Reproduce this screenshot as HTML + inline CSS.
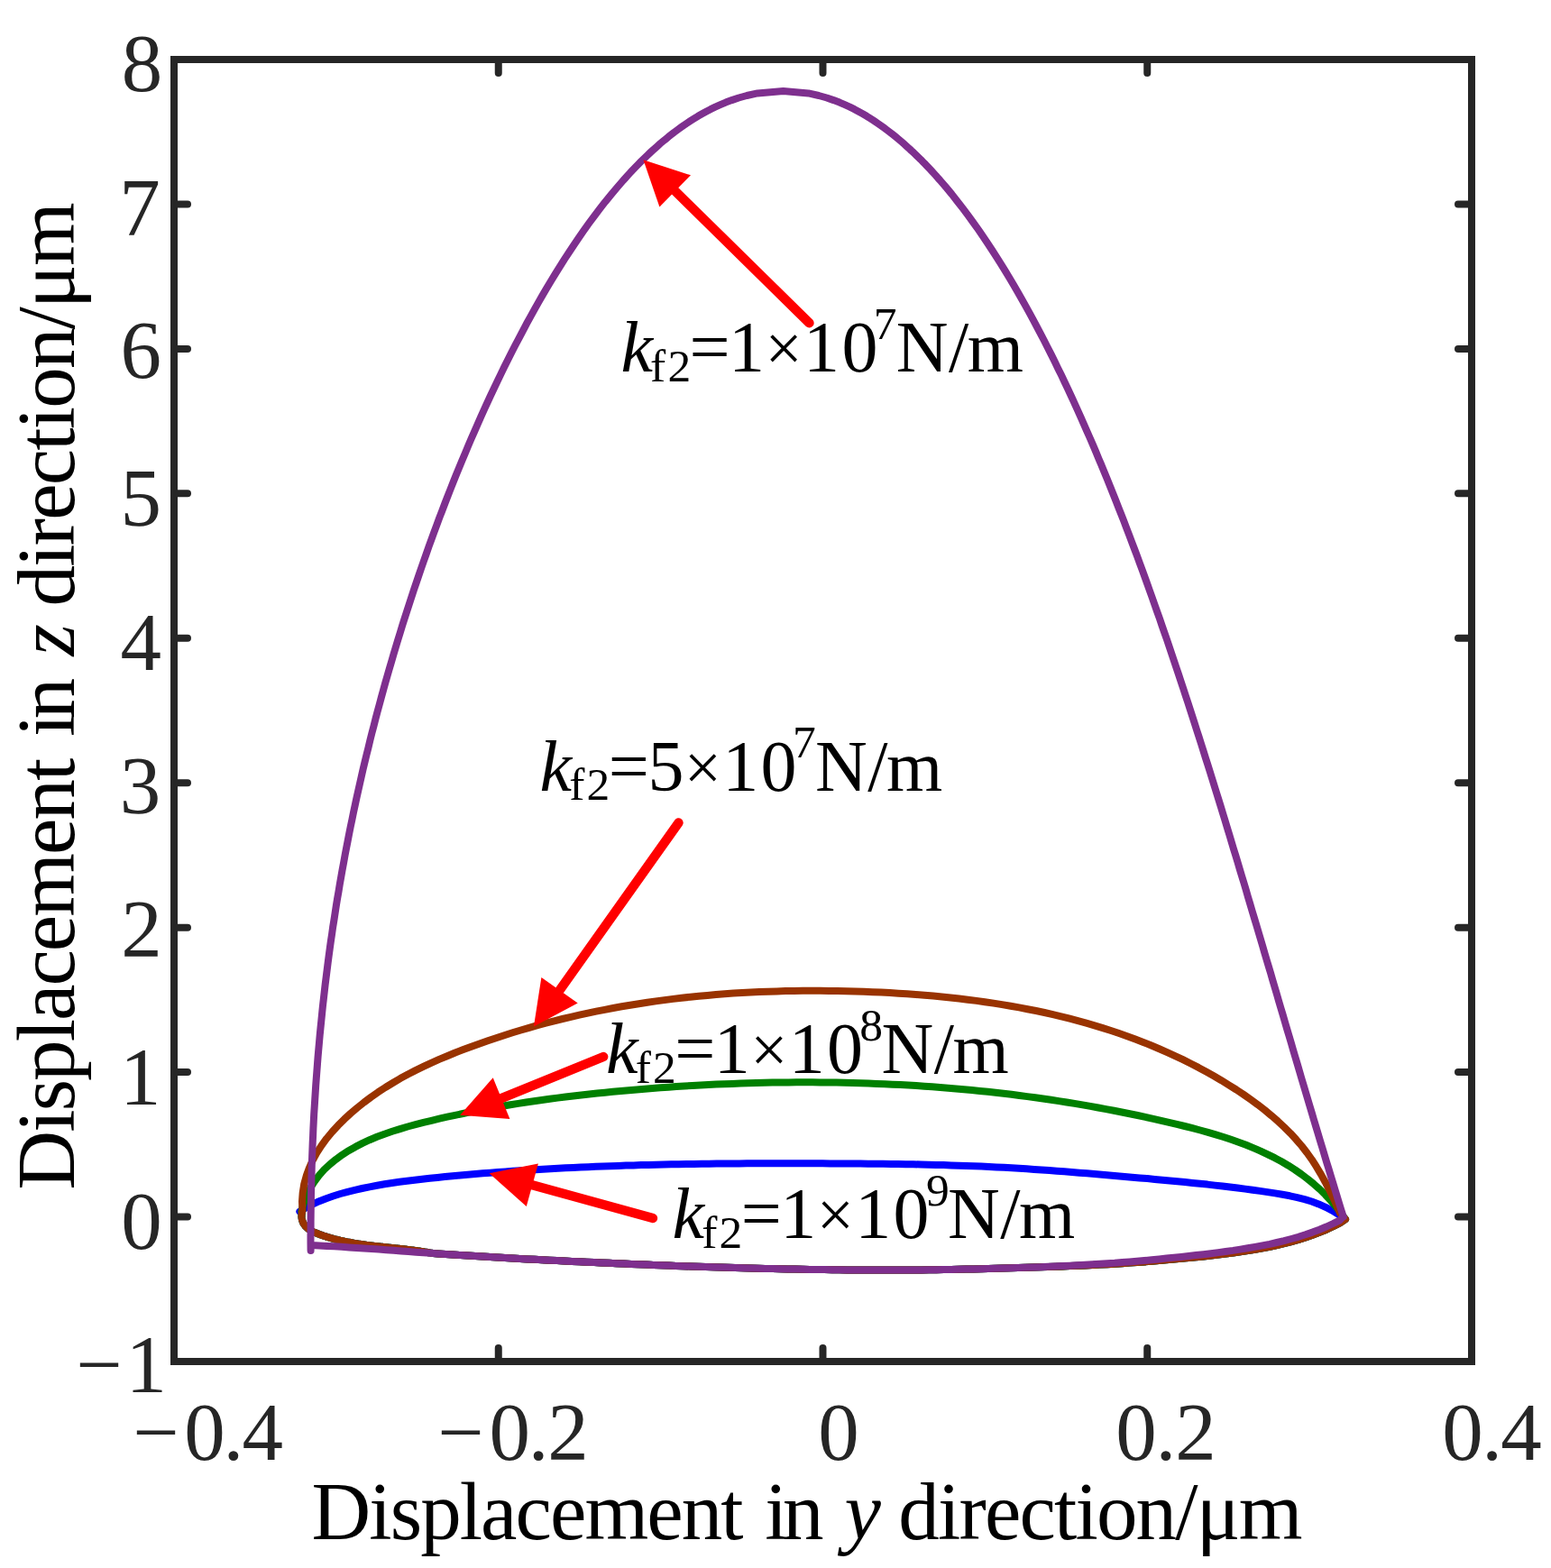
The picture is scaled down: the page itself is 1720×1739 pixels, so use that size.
<!DOCTYPE html>
<html lang="en"><head><meta charset="utf-8"><title>Displacement trajectory</title>
<style>html,body{margin:0;padding:0;background:#fff}body{width:1720px;height:1739px;overflow:hidden}svg{display:block}text{font-family:"Liberation Serif","DejaVu Serif",serif;white-space:pre;font-kerning:none}</style></head><body>
<svg width="1720" height="1739" viewBox="0 0 1720 1739">
<rect width="1720" height="1739" fill="#fff"/>
<path d="M480.0 1390.0 L478.8 1389.8 L477.7 1389.6 L476.5 1389.4 L475.4 1389.2 L474.2 1389.0 L473.1 1388.8 L471.9 1388.6 L470.7 1388.4 L469.6 1388.2 L468.4 1388.0 L467.3 1387.9 L466.1 1387.7 L464.9 1387.5 L463.8 1387.4 L462.6 1387.2 L461.4 1387.0 L460.3 1386.9 L459.1 1386.7 L457.9 1386.6 L456.8 1386.4 L455.6 1386.3 L454.4 1386.1 L453.2 1386.0 L452.1 1385.9 L450.9 1385.7 L449.7 1385.6 L448.6 1385.5 L447.4 1385.3 L446.2 1385.2 L445.0 1385.1 L443.9 1384.9 L442.7 1384.8 L441.5 1384.7 L440.3 1384.5 L439.1 1384.4 L438.0 1384.3 L436.8 1384.2 L435.6 1384.1 L434.4 1383.9 L433.3 1383.8 L432.1 1383.7 L430.9 1383.6 L429.7 1383.5 L428.6 1383.3 L427.4 1383.2 L426.2 1383.1 L425.0 1383.0 L423.8 1382.8 L422.7 1382.7 L421.5 1382.6 L420.3 1382.5 L419.1 1382.3 L417.9 1382.2 L416.8 1382.1 L415.6 1381.9 L414.4 1381.8 L413.2 1381.7 L412.1 1381.5 L410.9 1381.4 L409.7 1381.2 L408.5 1381.1 L407.4 1380.9 L406.2 1380.8 L405.0 1380.6 L403.8 1380.5 L402.7 1380.3 L401.5 1380.1 L400.3 1380.0 L399.1 1379.8 L398.0 1379.6 L396.8 1379.4 L395.6 1379.2 L394.5 1379.1 L393.3 1378.9 L392.1 1378.7 L391.0 1378.5 L389.8 1378.3 L388.6 1378.0 L387.5 1377.8 L386.3 1377.6 L385.2 1377.4 L384.0 1377.2 L382.9 1376.9 L381.7 1376.7 L380.5 1376.5 L379.4 1376.2 L378.2 1375.9 L377.1 1375.7 L375.9 1375.4 L374.8 1375.1 L373.6 1374.8 L372.5 1374.6 L371.3 1374.3 L370.2 1374.0 L369.0 1373.7 L367.9 1373.3 L366.8 1373.0 L365.6 1372.7 L364.5 1372.4 L363.3 1372.0 L362.2 1371.7 L361.1 1371.3 L359.9 1370.9 L358.8 1370.6 L357.7 1370.2 L356.6 1369.8 L355.4 1369.4 L354.3 1369.0 L353.2 1368.6 L352.1 1368.1 L351.0 1367.7 L349.9 1367.2 L348.8 1366.8 L347.7 1366.3 L346.7 1365.8 L345.7 1365.2 L344.7 1364.6 L343.7 1364.0 L342.8 1363.4 L341.9 1362.8 L341.0 1362.1 L340.2 1361.3 L339.4 1360.6 L338.6 1359.8 L337.9 1358.9 L337.3 1358.0 L336.7 1357.1 L336.2 1356.2 L335.8 1355.2 L335.4 1354.1 L335.0 1353.0 L334.8 1351.8 L334.6 1350.6 L334.5 1349.4 L334.5 1348.1 L334.6 1346.7 L334.8 1345.3 L335.1 1343.9 L335.4 1342.3 L332.3 1343.7 L339.4 1339.4 L346.6 1335.6 L354.1 1332.2 L361.8 1329.2 L369.5 1326.5 L377.4 1324.0 L385.4 1321.8 L393.5 1319.8 L401.6 1318.0 L409.8 1316.3 L418.1 1314.7 L426.4 1313.3 L434.7 1312.0 L443.1 1310.8 L451.4 1309.7 L459.8 1308.7 L468.2 1307.7 L476.6 1306.8 L485.0 1305.9 L493.4 1305.1 L501.8 1304.3 L510.2 1303.5 L518.6 1302.8 L527.0 1302.0 L535.3 1301.3 L543.7 1300.7 L552.0 1300.0 L560.4 1299.4 L568.7 1298.8 L577.1 1298.2 L585.4 1297.7 L593.8 1297.2 L602.1 1296.7 L610.5 1296.2 L618.8 1295.8 L627.2 1295.3 L635.5 1294.9 L643.9 1294.5 L652.3 1294.2 L660.6 1293.8 L669.0 1293.5 L677.4 1293.2 L685.7 1292.9 L694.1 1292.6 L702.5 1292.4 L710.9 1292.1 L719.2 1291.9 L727.6 1291.7 L736.0 1291.5 L744.4 1291.3 L752.8 1291.2 L761.2 1291.0 L769.6 1290.9 L778.0 1290.8 L786.3 1290.7 L794.7 1290.6 L803.1 1290.5 L811.5 1290.4 L819.9 1290.4 L828.3 1290.3 L836.7 1290.3 L845.1 1290.3 L853.5 1290.2 L861.9 1290.2 L870.3 1290.2 L878.7 1290.2 L887.1 1290.3 L895.5 1290.3 L903.9 1290.3 L912.2 1290.3 L920.6 1290.4 L929.0 1290.4 L937.4 1290.5 L945.8 1290.5 L954.2 1290.6 L962.6 1290.7 L971.0 1290.7 L979.4 1290.8 L987.8 1290.9 L996.1 1291.1 L1004.5 1291.2 L1012.9 1291.3 L1021.3 1291.5 L1029.7 1291.7 L1038.0 1291.9 L1046.4 1292.1 L1054.8 1292.4 L1063.2 1292.7 L1071.5 1293.0 L1079.9 1293.3 L1088.3 1293.6 L1096.7 1294.0 L1105.0 1294.4 L1113.4 1294.8 L1121.8 1295.3 L1130.1 1295.8 L1138.5 1296.3 L1146.8 1296.9 L1155.2 1297.5 L1163.6 1298.0 L1171.9 1298.7 L1180.3 1299.3 L1188.7 1300.0 L1197.0 1300.7 L1205.4 1301.3 L1213.7 1302.0 L1222.1 1302.8 L1230.5 1303.5 L1238.8 1304.2 L1247.2 1304.9 L1255.5 1305.7 L1263.9 1306.4 L1272.3 1307.1 L1280.6 1307.9 L1289.0 1308.7 L1297.3 1309.4 L1305.7 1310.2 L1314.1 1311.0 L1322.4 1311.9 L1330.8 1312.8 L1339.1 1313.6 L1347.4 1314.6 L1355.8 1315.5 L1364.1 1316.5 L1372.4 1317.5 L1380.8 1318.6 L1389.1 1319.8 L1397.4 1320.9 L1405.7 1322.1 L1414.0 1323.4 L1422.2 1324.8 L1430.5 1326.3 L1438.6 1328.1 L1446.7 1330.1 L1454.6 1332.5 L1462.4 1335.4 L1470.0 1338.8 L1477.5 1342.7 L1484.7 1347.2 L1492.0 1352.2 L1485.8 1356.5 L1478.4 1360.2 L1470.9 1363.7 L1463.2 1366.8 L1455.5 1369.7 L1447.7 1372.4 L1439.9 1374.9 L1432.0 1377.1 L1424.0 1379.2 L1416.0 1381.1 L1408.0 1382.8 L1399.9 1384.4 L1391.8 1385.8 L1383.7 1387.1 L1375.5 1388.3 L1367.4 1389.5 L1359.2 1390.5 L1351.0 1391.5 L1342.8 1392.5 L1334.6 1393.4 L1326.4 1394.2 L1318.2 1395.0 L1310.0 1395.8 L1301.8 1396.6 L1293.6 1397.3 L1285.4 1398.0 L1277.2 1398.7 L1269.0 1399.4 L1260.8 1400.0 L1252.5 1400.6 L1244.3 1401.2 L1236.1 1401.7 L1227.9 1402.2 L1219.6 1402.6 L1211.4 1403.0 L1203.2 1403.4 L1194.9 1403.8 L1186.7 1404.1 L1178.4 1404.4 L1170.2 1404.7 L1162.0 1405.0 L1153.7 1405.2 L1145.5 1405.5 L1137.2 1405.8 L1129.0 1406.1 L1120.8 1406.3 L1112.5 1406.6 L1104.3 1406.8 L1096.0 1407.1 L1087.8 1407.3 L1079.5 1407.5 L1071.3 1407.6 L1063.0 1407.8 L1054.8 1407.9 L1046.5 1408.1 L1038.3 1408.2 L1030.0 1408.3 L1021.8 1408.4 L1013.5 1408.4 L1005.3 1408.5 L997.0 1408.5 L988.8 1408.5 L980.5 1408.5 L972.3 1408.5 L964.0 1408.5 L955.8 1408.5 L947.5 1408.4 L939.3 1408.4 L931.0 1408.3 L922.8 1408.2 L914.5 1408.1 L906.3 1408.0 L898.0 1407.9 L889.8 1407.8 L881.5 1407.6 L873.3 1407.5 L865.0 1407.3 L856.8 1407.1 L848.5 1406.9 L840.3 1406.7 L832.0 1406.5 L823.8 1406.3 L815.5 1406.1 L807.3 1405.8 L799.0 1405.6 L790.8 1405.3 L782.6 1405.1 L774.3 1404.8 L766.1 1404.5 L757.8 1404.2 L749.6 1403.9 L741.3 1403.6 L733.1 1403.3 L724.8 1403.0 L716.6 1402.6 L708.3 1402.3 L700.1 1401.9 L691.9 1401.6 L683.6 1401.2 L675.4 1400.8 L667.1 1400.5 L658.9 1400.1 L650.6 1399.7 L642.4 1399.3 L634.2 1398.9 L625.9 1398.5 L617.7 1398.1 L609.5 1397.7 L601.2 1397.3 L593.0 1396.8 L584.7 1396.4 L576.5 1396.0 L568.3 1395.5 L560.0 1395.0 L551.8 1394.6 L543.6 1394.1 L535.3 1393.6 L527.1 1393.1 L518.9 1392.6 L510.6 1392.1 L502.4 1391.5 L494.2 1391.0 L485.9 1390.4Z" fill="none" stroke="#0000ff" stroke-width="8" stroke-linejoin="round" stroke-linecap="round"/>
<path d="M480.0 1390.0 L478.8 1389.8 L477.7 1389.6 L476.5 1389.4 L475.4 1389.2 L474.2 1389.0 L473.1 1388.8 L471.9 1388.6 L470.7 1388.4 L469.6 1388.2 L468.4 1388.0 L467.3 1387.9 L466.1 1387.7 L464.9 1387.5 L463.8 1387.4 L462.6 1387.2 L461.4 1387.0 L460.3 1386.9 L459.1 1386.7 L457.9 1386.6 L456.8 1386.4 L455.6 1386.3 L454.4 1386.1 L453.2 1386.0 L452.1 1385.9 L450.9 1385.7 L449.7 1385.6 L448.6 1385.5 L447.4 1385.3 L446.2 1385.2 L445.0 1385.1 L443.9 1384.9 L442.7 1384.8 L441.5 1384.7 L440.3 1384.5 L439.1 1384.4 L438.0 1384.3 L436.8 1384.2 L435.6 1384.1 L434.4 1383.9 L433.3 1383.8 L432.1 1383.7 L430.9 1383.6 L429.7 1383.5 L428.6 1383.3 L427.4 1383.2 L426.2 1383.1 L425.0 1383.0 L423.8 1382.8 L422.7 1382.7 L421.5 1382.6 L420.3 1382.5 L419.1 1382.3 L417.9 1382.2 L416.8 1382.1 L415.6 1381.9 L414.4 1381.8 L413.2 1381.7 L412.1 1381.5 L410.9 1381.4 L409.7 1381.2 L408.5 1381.1 L407.4 1380.9 L406.2 1380.8 L405.0 1380.6 L403.8 1380.5 L402.7 1380.3 L401.5 1380.1 L400.3 1380.0 L399.1 1379.8 L398.0 1379.6 L396.8 1379.4 L395.6 1379.2 L394.5 1379.1 L393.3 1378.9 L392.1 1378.7 L391.0 1378.5 L389.8 1378.3 L388.6 1378.0 L387.5 1377.8 L386.3 1377.6 L385.2 1377.4 L384.0 1377.2 L382.9 1376.9 L381.7 1376.7 L380.5 1376.5 L379.4 1376.2 L378.2 1375.9 L377.1 1375.7 L375.9 1375.4 L374.8 1375.1 L373.6 1374.8 L372.5 1374.6 L371.3 1374.3 L370.2 1374.0 L369.0 1373.7 L367.9 1373.3 L366.8 1373.0 L365.6 1372.7 L364.5 1372.4 L363.3 1372.0 L362.2 1371.7 L361.1 1371.3 L359.9 1370.9 L358.8 1370.6 L357.7 1370.2 L356.6 1369.8 L355.4 1369.4 L354.3 1369.0 L353.2 1368.6 L352.1 1368.1 L351.0 1367.7 L349.9 1367.2 L348.8 1366.8 L347.7 1366.3 L346.7 1365.8 L345.7 1365.2 L344.7 1364.6 L343.7 1364.0 L342.8 1363.4 L341.9 1362.8 L341.0 1362.1 L340.2 1361.3 L339.4 1360.6 L338.6 1359.8 L337.9 1358.9 L337.3 1358.0 L336.7 1357.1 L336.2 1356.2 L335.8 1355.2 L335.4 1354.1 L335.0 1353.0 L334.8 1351.8 L334.6 1350.6 L334.5 1349.4 L334.5 1348.1 L334.6 1346.7 L334.8 1345.3 L335.1 1343.9 L335.4 1342.3 L334.3 1343.8 L336.7 1334.5 L340.0 1325.9 L343.9 1317.9 L348.6 1310.5 L353.8 1303.6 L359.5 1297.2 L365.8 1291.3 L372.4 1285.9 L379.4 1280.8 L386.6 1276.2 L394.2 1271.9 L402.0 1267.9 L409.9 1264.2 L418.1 1260.8 L426.4 1257.7 L434.9 1254.8 L443.5 1252.1 L452.1 1249.5 L460.9 1247.2 L469.6 1244.9 L478.4 1242.8 L487.2 1240.7 L496.0 1238.7 L504.7 1236.8 L513.5 1235.0 L522.2 1233.2 L531.0 1231.5 L539.7 1229.8 L548.5 1228.2 L557.2 1226.7 L565.9 1225.3 L574.7 1223.9 L583.4 1222.5 L592.1 1221.2 L600.9 1220.0 L609.6 1218.8 L618.3 1217.6 L627.1 1216.5 L635.8 1215.5 L644.5 1214.5 L653.3 1213.5 L662.1 1212.5 L670.8 1211.7 L679.6 1210.8 L688.4 1210.0 L697.2 1209.2 L706.0 1208.4 L714.8 1207.7 L723.6 1207.0 L732.5 1206.3 L741.3 1205.7 L750.1 1205.1 L759.0 1204.5 L767.8 1204.0 L776.7 1203.5 L785.6 1203.0 L794.4 1202.6 L803.3 1202.2 L812.2 1201.9 L821.1 1201.5 L829.9 1201.3 L838.8 1201.0 L847.7 1200.8 L856.6 1200.6 L865.5 1200.5 L874.4 1200.4 L883.2 1200.3 L892.1 1200.3 L901.0 1200.3 L909.9 1200.4 L918.8 1200.5 L927.6 1200.6 L936.5 1200.8 L945.4 1201.0 L954.2 1201.3 L963.1 1201.5 L972.0 1201.9 L980.8 1202.2 L989.6 1202.7 L998.5 1203.1 L1007.3 1203.6 L1016.1 1204.1 L1025.0 1204.7 L1033.8 1205.3 L1042.6 1206.0 L1051.4 1206.7 L1060.2 1207.4 L1069.0 1208.2 L1077.8 1209.0 L1086.6 1209.9 L1095.4 1210.8 L1104.1 1211.8 L1112.9 1212.8 L1121.7 1213.8 L1130.5 1215.0 L1139.2 1216.1 L1148.0 1217.3 L1156.7 1218.5 L1165.5 1219.8 L1174.2 1221.1 L1183.0 1222.5 L1191.7 1223.9 L1200.5 1225.4 L1209.2 1226.9 L1217.9 1228.5 L1226.6 1230.1 L1235.4 1231.8 L1244.1 1233.5 L1252.8 1235.2 L1261.5 1237.0 L1270.2 1238.9 L1279.0 1240.8 L1287.7 1242.8 L1296.4 1244.8 L1305.1 1246.9 L1313.8 1249.0 L1322.4 1251.2 L1331.1 1253.5 L1339.7 1255.9 L1348.2 1258.4 L1356.8 1261.0 L1365.2 1263.8 L1373.5 1266.7 L1381.8 1269.8 L1389.9 1273.1 L1398.0 1276.6 L1405.9 1280.3 L1413.7 1284.2 L1421.3 1288.3 L1428.8 1292.7 L1436.1 1297.4 L1443.3 1302.4 L1450.2 1307.6 L1457.0 1313.2 L1463.6 1319.0 L1469.9 1325.2 L1476.0 1331.8 L1481.9 1338.7 L1487.5 1346.0 L1492.0 1352.2 L1485.8 1356.5 L1478.4 1360.2 L1470.9 1363.7 L1463.2 1366.8 L1455.5 1369.7 L1447.7 1372.4 L1439.9 1374.9 L1432.0 1377.1 L1424.0 1379.2 L1416.0 1381.1 L1408.0 1382.8 L1399.9 1384.4 L1391.8 1385.8 L1383.7 1387.1 L1375.5 1388.3 L1367.4 1389.5 L1359.2 1390.5 L1351.0 1391.5 L1342.8 1392.5 L1334.6 1393.4 L1326.4 1394.2 L1318.2 1395.0 L1310.0 1395.8 L1301.8 1396.6 L1293.6 1397.3 L1285.4 1398.0 L1277.2 1398.7 L1269.0 1399.4 L1260.8 1400.0 L1252.5 1400.6 L1244.3 1401.2 L1236.1 1401.7 L1227.9 1402.2 L1219.6 1402.6 L1211.4 1403.0 L1203.2 1403.4 L1194.9 1403.8 L1186.7 1404.1 L1178.4 1404.4 L1170.2 1404.7 L1162.0 1405.0 L1153.7 1405.2 L1145.5 1405.5 L1137.2 1405.8 L1129.0 1406.1 L1120.8 1406.3 L1112.5 1406.6 L1104.3 1406.8 L1096.0 1407.1 L1087.8 1407.3 L1079.5 1407.5 L1071.3 1407.6 L1063.0 1407.8 L1054.8 1407.9 L1046.5 1408.1 L1038.3 1408.2 L1030.0 1408.3 L1021.8 1408.4 L1013.5 1408.4 L1005.3 1408.5 L997.0 1408.5 L988.8 1408.5 L980.5 1408.5 L972.3 1408.5 L964.0 1408.5 L955.8 1408.5 L947.5 1408.4 L939.3 1408.4 L931.0 1408.3 L922.8 1408.2 L914.5 1408.1 L906.3 1408.0 L898.0 1407.9 L889.8 1407.8 L881.5 1407.6 L873.3 1407.5 L865.0 1407.3 L856.8 1407.1 L848.5 1406.9 L840.3 1406.7 L832.0 1406.5 L823.8 1406.3 L815.5 1406.1 L807.3 1405.8 L799.0 1405.6 L790.8 1405.3 L782.6 1405.1 L774.3 1404.8 L766.1 1404.5 L757.8 1404.2 L749.6 1403.9 L741.3 1403.6 L733.1 1403.3 L724.8 1403.0 L716.6 1402.6 L708.3 1402.3 L700.1 1401.9 L691.9 1401.6 L683.6 1401.2 L675.4 1400.8 L667.1 1400.5 L658.9 1400.1 L650.6 1399.7 L642.4 1399.3 L634.2 1398.9 L625.9 1398.5 L617.7 1398.1 L609.5 1397.7 L601.2 1397.3 L593.0 1396.8 L584.7 1396.4 L576.5 1396.0 L568.3 1395.5 L560.0 1395.0 L551.8 1394.6 L543.6 1394.1 L535.3 1393.6 L527.1 1393.1 L518.9 1392.6 L510.6 1392.1 L502.4 1391.5 L494.2 1391.0 L485.9 1390.4Z" fill="none" stroke="#008000" stroke-width="8" stroke-linejoin="round" stroke-linecap="round"/>
<path d="M480.0 1390.0 L478.8 1389.8 L477.7 1389.6 L476.5 1389.4 L475.4 1389.2 L474.2 1389.0 L473.1 1388.8 L471.9 1388.6 L470.7 1388.4 L469.6 1388.2 L468.4 1388.0 L467.3 1387.9 L466.1 1387.7 L464.9 1387.5 L463.8 1387.4 L462.6 1387.2 L461.4 1387.0 L460.3 1386.9 L459.1 1386.7 L457.9 1386.6 L456.8 1386.4 L455.6 1386.3 L454.4 1386.1 L453.2 1386.0 L452.1 1385.9 L450.9 1385.7 L449.7 1385.6 L448.6 1385.5 L447.4 1385.3 L446.2 1385.2 L445.0 1385.1 L443.9 1384.9 L442.7 1384.8 L441.5 1384.7 L440.3 1384.5 L439.1 1384.4 L438.0 1384.3 L436.8 1384.2 L435.6 1384.1 L434.4 1383.9 L433.3 1383.8 L432.1 1383.7 L430.9 1383.6 L429.7 1383.5 L428.6 1383.3 L427.4 1383.2 L426.2 1383.1 L425.0 1383.0 L423.8 1382.8 L422.7 1382.7 L421.5 1382.6 L420.3 1382.5 L419.1 1382.3 L417.9 1382.2 L416.8 1382.1 L415.6 1381.9 L414.4 1381.8 L413.2 1381.7 L412.1 1381.5 L410.9 1381.4 L409.7 1381.2 L408.5 1381.1 L407.4 1380.9 L406.2 1380.8 L405.0 1380.6 L403.8 1380.5 L402.7 1380.3 L401.5 1380.1 L400.3 1380.0 L399.1 1379.8 L398.0 1379.6 L396.8 1379.4 L395.6 1379.2 L394.5 1379.1 L393.3 1378.9 L392.1 1378.7 L391.0 1378.5 L389.8 1378.3 L388.6 1378.0 L387.5 1377.8 L386.3 1377.6 L385.2 1377.4 L384.0 1377.2 L382.9 1376.9 L381.7 1376.7 L380.5 1376.5 L379.4 1376.2 L378.2 1375.9 L377.1 1375.7 L375.9 1375.4 L374.8 1375.1 L373.6 1374.8 L372.5 1374.6 L371.3 1374.3 L370.2 1374.0 L369.0 1373.7 L367.9 1373.3 L366.8 1373.0 L365.6 1372.7 L364.5 1372.4 L363.3 1372.0 L362.2 1371.7 L361.1 1371.3 L359.9 1370.9 L358.8 1370.6 L357.7 1370.2 L356.6 1369.8 L355.4 1369.4 L354.3 1369.0 L353.2 1368.6 L352.1 1368.1 L351.0 1367.7 L349.9 1367.2 L348.8 1366.8 L347.7 1366.3 L346.7 1365.8 L345.7 1365.2 L344.7 1364.6 L343.7 1364.0 L342.8 1363.4 L341.9 1362.8 L341.0 1362.1 L340.2 1361.3 L339.4 1360.6 L338.6 1359.8 L337.9 1358.9 L337.3 1358.0 L336.7 1357.1 L336.2 1356.2 L335.8 1355.2 L335.4 1354.1 L335.0 1353.0 L334.8 1351.8 L334.6 1350.6 L334.5 1349.4 L334.5 1348.1 L334.6 1346.7 L334.8 1345.3 L335.1 1343.9 L335.4 1342.3 L335.4 1342.5 L335.0 1332.5 L335.7 1322.8 L337.2 1313.3 L339.7 1304.2 L342.9 1295.3 L346.8 1286.7 L351.4 1278.4 L356.6 1270.4 L362.2 1262.7 L368.4 1255.3 L374.9 1248.2 L381.8 1241.3 L388.9 1234.8 L396.3 1228.5 L403.8 1222.5 L411.5 1216.7 L419.4 1211.2 L427.4 1206.0 L435.6 1201.0 L443.9 1196.1 L452.3 1191.5 L460.8 1187.1 L469.5 1182.9 L478.2 1178.8 L487.0 1174.9 L495.9 1171.2 L504.8 1167.5 L513.8 1164.1 L522.8 1160.7 L531.9 1157.4 L541.0 1154.2 L550.1 1151.2 L559.2 1148.2 L568.4 1145.3 L577.6 1142.5 L586.8 1139.8 L596.0 1137.2 L605.3 1134.7 L614.5 1132.3 L623.8 1130.0 L633.1 1127.8 L642.5 1125.7 L651.9 1123.6 L661.2 1121.7 L670.6 1119.8 L680.0 1118.0 L689.5 1116.3 L698.9 1114.7 L708.4 1113.2 L717.8 1111.7 L727.3 1110.4 L736.8 1109.1 L746.4 1107.9 L755.9 1106.8 L765.4 1105.7 L775.0 1104.8 L784.5 1103.9 L794.1 1103.0 L803.7 1102.3 L813.3 1101.6 L822.9 1101.0 L832.5 1100.5 L842.1 1100.1 L851.8 1099.7 L861.4 1099.4 L871.0 1099.1 L880.6 1099.0 L890.3 1098.8 L899.9 1098.8 L909.6 1098.8 L919.2 1098.9 L928.9 1099.0 L938.5 1099.2 L948.2 1099.5 L957.8 1099.8 L967.5 1100.2 L977.1 1100.6 L986.8 1101.1 L996.4 1101.7 L1006.0 1102.3 L1015.7 1103.0 L1025.3 1103.8 L1034.9 1104.6 L1044.5 1105.5 L1054.1 1106.5 L1063.6 1107.5 L1073.2 1108.7 L1082.7 1109.9 L1092.2 1111.2 L1101.8 1112.6 L1111.2 1114.1 L1120.7 1115.7 L1130.1 1117.4 L1139.5 1119.2 L1148.9 1121.0 L1158.3 1123.0 L1167.6 1125.1 L1176.9 1127.3 L1186.2 1129.7 L1195.4 1132.1 L1204.6 1134.6 L1213.8 1137.3 L1222.9 1140.1 L1232.0 1143.0 L1241.0 1146.0 L1250.0 1149.2 L1259.0 1152.5 L1267.9 1155.9 L1276.8 1159.5 L1285.6 1163.2 L1294.4 1167.1 L1303.1 1171.1 L1311.8 1175.2 L1320.4 1179.5 L1329.0 1183.9 L1337.5 1188.5 L1346.0 1193.3 L1354.4 1198.2 L1362.7 1203.3 L1371.0 1208.5 L1379.1 1213.9 L1387.1 1219.5 L1394.9 1225.2 L1402.6 1231.2 L1410.0 1237.3 L1417.2 1243.6 L1424.2 1250.1 L1431.0 1256.8 L1437.4 1263.8 L1443.6 1271.0 L1449.4 1278.5 L1454.9 1286.2 L1460.0 1294.2 L1464.9 1302.4 L1469.5 1310.7 L1474.0 1319.3 L1478.2 1327.9 L1482.2 1336.7 L1486.1 1345.6 L1492.0 1352.2 L1485.8 1356.5 L1478.4 1360.2 L1470.9 1363.7 L1463.2 1366.8 L1455.5 1369.7 L1447.7 1372.4 L1439.9 1374.9 L1432.0 1377.1 L1424.0 1379.2 L1416.0 1381.1 L1408.0 1382.8 L1399.9 1384.4 L1391.8 1385.8 L1383.7 1387.1 L1375.5 1388.3 L1367.4 1389.5 L1359.2 1390.5 L1351.0 1391.5 L1342.8 1392.5 L1334.6 1393.4 L1326.4 1394.2 L1318.2 1395.0 L1310.0 1395.8 L1301.8 1396.6 L1293.6 1397.3 L1285.4 1398.0 L1277.2 1398.7 L1269.0 1399.4 L1260.8 1400.0 L1252.5 1400.6 L1244.3 1401.2 L1236.1 1401.7 L1227.9 1402.2 L1219.6 1402.6 L1211.4 1403.0 L1203.2 1403.4 L1194.9 1403.8 L1186.7 1404.1 L1178.4 1404.4 L1170.2 1404.7 L1162.0 1405.0 L1153.7 1405.2 L1145.5 1405.5 L1137.2 1405.8 L1129.0 1406.1 L1120.8 1406.3 L1112.5 1406.6 L1104.3 1406.8 L1096.0 1407.1 L1087.8 1407.3 L1079.5 1407.5 L1071.3 1407.6 L1063.0 1407.8 L1054.8 1407.9 L1046.5 1408.1 L1038.3 1408.2 L1030.0 1408.3 L1021.8 1408.4 L1013.5 1408.4 L1005.3 1408.5 L997.0 1408.5 L988.8 1408.5 L980.5 1408.5 L972.3 1408.5 L964.0 1408.5 L955.8 1408.5 L947.5 1408.4 L939.3 1408.4 L931.0 1408.3 L922.8 1408.2 L914.5 1408.1 L906.3 1408.0 L898.0 1407.9 L889.8 1407.8 L881.5 1407.6 L873.3 1407.5 L865.0 1407.3 L856.8 1407.1 L848.5 1406.9 L840.3 1406.7 L832.0 1406.5 L823.8 1406.3 L815.5 1406.1 L807.3 1405.8 L799.0 1405.6 L790.8 1405.3 L782.6 1405.1 L774.3 1404.8 L766.1 1404.5 L757.8 1404.2 L749.6 1403.9 L741.3 1403.6 L733.1 1403.3 L724.8 1403.0 L716.6 1402.6 L708.3 1402.3 L700.1 1401.9 L691.9 1401.6 L683.6 1401.2 L675.4 1400.8 L667.1 1400.5 L658.9 1400.1 L650.6 1399.7 L642.4 1399.3 L634.2 1398.9 L625.9 1398.5 L617.7 1398.1 L609.5 1397.7 L601.2 1397.3 L593.0 1396.8 L584.7 1396.4 L576.5 1396.0 L568.3 1395.5 L560.0 1395.0 L551.8 1394.6 L543.6 1394.1 L535.3 1393.6 L527.1 1393.1 L518.9 1392.6 L510.6 1392.1 L502.4 1391.5 L494.2 1391.0 L485.9 1390.4Z" fill="none" stroke="#993300" stroke-width="8" stroke-linejoin="round" stroke-linecap="round"/>
<path d="M344.6 1387.0 L344.5 1379.0 L344.5 1371.1 L344.6 1363.1 L344.6 1355.1 L344.7 1347.2 L344.8 1339.2 L344.9 1331.2 L345.0 1323.3 L345.2 1315.3 L345.4 1307.3 L345.6 1299.4 L345.8 1291.4 L346.1 1283.4 L346.4 1275.5 L346.7 1267.5 L347.1 1259.5 L347.4 1251.6 L347.8 1243.6 L348.2 1235.6 L348.7 1227.7 L349.2 1219.7 L349.7 1211.7 L350.2 1203.8 L350.8 1195.8 L351.4 1187.8 L352.0 1179.9 L352.6 1171.9 L353.3 1163.9 L354.0 1156.0 L354.7 1148.0 L355.5 1140.0 L356.3 1132.1 L357.1 1124.1 L357.9 1116.1 L358.8 1108.2 L359.7 1100.2 L360.6 1092.2 L361.6 1084.3 L362.6 1076.3 L363.6 1068.3 L364.6 1060.4 L365.7 1052.4 L366.8 1044.4 L368.0 1036.5 L369.1 1028.5 L370.4 1020.5 L371.6 1012.6 L372.8 1004.6 L374.1 996.6 L375.5 988.7 L376.8 980.7 L378.2 972.7 L379.6 964.8 L381.1 956.8 L382.5 948.9 L384.0 940.9 L385.6 932.9 L387.1 925.0 L388.7 917.0 L390.4 909.0 L392.0 901.0 L393.7 893.1 L395.4 885.1 L397.2 877.1 L399.0 869.2 L400.8 861.2 L402.6 853.2 L404.5 845.3 L406.4 837.3 L408.4 829.4 L410.3 821.4 L412.3 813.4 L414.4 805.5 L416.4 797.5 L418.5 789.5 L420.7 781.5 L422.8 773.6 L425.0 765.6 L427.2 757.6 L429.5 749.7 L431.8 741.7 L434.1 733.8 L436.4 725.8 L438.8 717.8 L441.2 709.9 L443.7 701.9 L446.1 693.9 L448.6 686.0 L451.2 678.0 L453.8 670.0 L456.4 662.0 L459.0 654.1 L461.7 646.1 L464.4 638.1 L467.1 630.2 L469.9 622.2 L472.7 614.3 L475.5 606.3 L478.4 598.3 L481.3 590.4 L484.3 582.4 L487.2 574.4 L490.3 566.5 L493.3 558.5 L496.4 550.5 L499.5 542.6 L502.7 534.6 L505.9 526.6 L509.1 518.7 L512.4 510.7 L515.8 502.7 L519.1 494.8 L522.5 486.8 L526.0 478.8 L529.5 470.9 L533.0 462.9 L536.6 454.9 L540.2 447.0 L543.9 439.0 L547.7 431.0 L551.5 423.1 L555.3 415.1 L559.2 407.1 L563.1 399.2 L567.1 391.2 L571.2 383.2 L575.4 375.3 L579.6 367.3 L583.8 359.3 L588.2 351.4 L592.6 343.4 L597.1 335.4 L601.6 327.5 L606.3 319.5 L611.1 311.5 L615.9 303.6 L620.9 295.6 L625.9 287.6 L631.1 279.7 L636.4 271.7 L641.8 263.7 L647.3 255.8 L653.0 247.8 L658.9 239.8 L664.9 231.9 L671.1 223.9 L677.6 215.9 L684.3 208.0 L691.2 200.0 L693.5 197.5 L695.8 194.9 L698.1 192.4 L700.5 189.8 L702.9 187.3 L705.3 184.8 L707.8 182.2 L710.3 179.7 L712.9 177.1 L715.5 174.6 L718.1 172.1 L720.8 169.5 L723.5 167.0 L726.4 164.4 L729.2 161.9 L732.1 159.3 L735.1 156.8 L738.2 154.3 L741.3 151.7 L744.5 149.2 L747.8 146.6 L751.2 144.1 L754.7 141.6 L758.3 139.0 L762.0 136.5 L765.9 133.9 L769.9 131.4 L774.1 128.8 L778.5 126.3 L783.1 123.8 L788.0 121.2 L793.2 118.7 L798.8 116.2 L804.8 113.6 L811.5 111.1 L819.2 108.5 L828.2 106.0 L840.1 103.4 L868.6 100.9 L896.5 103.4 L908.0 106.0 L916.9 108.5 L924.4 111.1 L931.0 113.6 L936.9 116.2 L942.4 118.7 L947.5 121.2 L952.2 123.8 L956.8 126.3 L961.1 128.8 L965.2 131.4 L969.1 133.9 L972.9 136.5 L976.5 139.0 L980.1 141.6 L983.5 144.1 L986.8 146.6 L990.1 149.2 L993.2 151.7 L996.3 154.3 L999.3 156.8 L1002.2 159.3 L1005.1 161.9 L1007.9 164.4 L1010.6 167.0 L1013.4 169.5 L1016.0 172.1 L1018.6 174.6 L1021.2 177.1 L1023.7 179.7 L1026.2 182.2 L1028.6 184.8 L1031.0 187.3 L1033.3 189.8 L1035.7 192.4 L1038.0 194.9 L1040.2 197.5 L1042.5 200.0 L1049.1 207.7 L1055.5 215.4 L1061.6 223.2 L1067.6 230.9 L1073.4 238.6 L1079.0 246.3 L1084.5 254.0 L1089.8 261.7 L1095.0 269.4 L1100.1 277.2 L1105.0 284.9 L1109.9 292.6 L1114.7 300.3 L1119.3 308.0 L1123.9 315.8 L1128.4 323.5 L1132.8 331.2 L1137.1 338.9 L1141.4 346.6 L1145.6 354.3 L1149.7 362.1 L1153.8 369.8 L1157.8 377.5 L1161.7 385.2 L1165.6 392.9 L1169.4 400.6 L1173.2 408.4 L1177.0 416.1 L1180.6 423.8 L1184.3 431.5 L1187.9 439.2 L1191.4 446.9 L1194.9 454.6 L1198.4 462.4 L1201.8 470.1 L1205.2 477.8 L1208.6 485.5 L1211.9 493.2 L1215.2 500.9 L1218.4 508.7 L1221.7 516.4 L1224.8 524.1 L1228.0 531.8 L1231.1 539.5 L1234.2 547.3 L1237.3 555.0 L1240.3 562.7 L1243.4 570.4 L1246.4 578.1 L1249.3 585.8 L1252.3 593.6 L1255.2 601.3 L1258.1 609.0 L1261.0 616.7 L1263.8 624.4 L1266.7 632.1 L1269.5 639.9 L1272.3 647.6 L1275.0 655.3 L1277.8 663.0 L1280.5 670.7 L1283.2 678.4 L1286.0 686.2 L1288.6 693.9 L1291.3 701.6 L1294.0 709.3 L1296.6 717.0 L1299.2 724.7 L1301.8 732.5 L1304.4 740.2 L1307.0 747.9 L1309.5 755.6 L1312.1 763.3 L1314.6 771.0 L1317.2 778.8 L1319.7 786.5 L1322.2 794.2 L1324.7 801.9 L1327.1 809.6 L1329.6 817.3 L1332.1 825.1 L1334.5 832.8 L1336.9 840.5 L1339.4 848.2 L1341.8 855.9 L1344.2 863.6 L1346.6 871.4 L1349.0 879.1 L1351.4 886.8 L1353.8 894.5 L1356.1 902.2 L1358.5 909.9 L1360.8 917.7 L1363.2 925.4 L1365.5 933.1 L1367.8 940.8 L1370.2 948.5 L1372.5 956.2 L1374.8 964.0 L1377.1 971.7 L1379.5 979.4 L1381.8 987.1 L1384.0 994.8 L1386.3 1002.5 L1388.6 1010.3 L1390.9 1018.0 L1393.2 1025.7 L1395.5 1033.4 L1397.8 1041.1 L1400.1 1048.8 L1402.3 1056.6 L1404.6 1064.3 L1406.9 1072.0 L1409.2 1079.7 L1411.4 1087.4 L1413.7 1095.2 L1416.0 1102.9 L1418.2 1110.6 L1420.5 1118.3 L1422.8 1126.0 L1425.0 1133.7 L1427.3 1141.5 L1429.6 1149.2 L1431.9 1156.9 L1434.1 1164.6 L1436.4 1172.3 L1438.7 1180.0 L1441.0 1187.8 L1443.2 1195.5 L1445.5 1203.2 L1447.8 1210.9 L1450.1 1218.6 L1452.4 1226.3 L1454.7 1234.0 L1457.0 1241.8 L1459.3 1249.5 L1461.6 1257.2 L1463.9 1264.9 L1466.3 1272.6 L1468.6 1280.3 L1470.9 1288.1 L1473.3 1295.8 L1475.6 1303.5 L1478.0 1311.2 L1480.3 1318.9 L1482.7 1326.7 L1485.0 1334.4 L1487.4 1342.1 L1489.8 1349.8 L1489.2 1349.8 L1485.8 1353.3 L1478.4 1357.0 L1470.9 1360.5 L1463.2 1363.7 L1455.5 1366.6 L1447.7 1369.3 L1439.9 1371.8 L1432.0 1374.0 L1424.0 1376.1 L1416.0 1378.0 L1408.0 1379.8 L1399.9 1381.4 L1391.8 1382.9 L1383.7 1384.3 L1375.5 1385.6 L1367.4 1386.9 L1359.2 1388.0 L1351.0 1389.1 L1342.8 1390.2 L1334.6 1391.2 L1326.4 1392.1 L1318.2 1393.0 L1310.0 1393.9 L1301.8 1394.7 L1293.6 1395.6 L1285.4 1396.4 L1277.2 1397.2 L1269.0 1398.0 L1260.8 1398.7 L1252.5 1399.4 L1244.3 1400.0 L1236.1 1400.7 L1227.9 1401.2 L1219.6 1401.8 L1211.4 1402.3 L1203.2 1402.8 L1194.9 1403.2 L1186.7 1403.7 L1178.4 1404.1 L1170.2 1404.4 L1162.0 1404.8 L1153.7 1405.2 L1145.5 1405.5 L1137.2 1405.8 L1129.0 1406.1 L1120.8 1406.3 L1112.5 1406.6 L1104.3 1406.8 L1096.0 1407.1 L1087.8 1407.3 L1079.5 1407.5 L1071.3 1407.6 L1063.0 1407.8 L1054.8 1407.9 L1046.5 1408.1 L1038.3 1408.2 L1030.0 1408.3 L1021.8 1408.4 L1013.5 1408.4 L1005.3 1408.5 L997.0 1408.5 L988.8 1408.5 L980.5 1408.5 L972.3 1408.5 L964.0 1408.5 L955.8 1408.5 L947.5 1408.4 L939.3 1408.4 L931.0 1408.3 L922.8 1408.2 L914.5 1408.1 L906.3 1408.0 L898.0 1407.9 L889.8 1407.8 L881.5 1407.6 L873.3 1407.5 L865.0 1407.3 L856.8 1407.1 L848.5 1406.9 L840.3 1406.7 L832.0 1406.5 L823.8 1406.3 L815.5 1406.1 L807.3 1405.8 L799.0 1405.6 L790.8 1405.3 L782.6 1405.1 L774.3 1404.8 L766.1 1404.5 L757.8 1404.2 L749.6 1403.9 L741.3 1403.6 L733.1 1403.3 L724.8 1403.0 L716.6 1402.6 L708.3 1402.3 L700.1 1401.9 L691.9 1401.6 L683.6 1401.2 L675.4 1400.8 L667.1 1400.5 L658.9 1400.1 L650.6 1399.7 L642.4 1399.3 L634.2 1398.9 L625.9 1398.5 L617.7 1398.1 L609.5 1397.7 L601.2 1397.3 L593.0 1396.8 L584.7 1396.4 L576.5 1396.0 L568.3 1395.5 L560.0 1395.0 L551.8 1394.6 L543.6 1394.1 L535.3 1393.6 L527.1 1393.1 L518.9 1392.6 L510.6 1392.1 L502.4 1391.5 L494.2 1391.0 L485.9 1390.4 L477.7 1389.8 L469.5 1389.3 L461.3 1388.7 L453.0 1388.1 L444.8 1387.5 L436.6 1386.8 L428.3 1386.2 L420.1 1385.6 L411.9 1385.1 L403.6 1384.5 L395.4 1383.9 L387.2 1383.4 L378.9 1382.8 L370.7 1382.3 L362.5 1381.9 L354.2 1381.4 L346.0 1381.0" fill="none" stroke="#7e2f8e" stroke-width="8" stroke-linejoin="round" stroke-linecap="round"/>
<line x1="897.5" y1="358.2" x2="748.7" y2="211.9" stroke="#ff0000" stroke-width="10.4" stroke-linecap="round"/>
<polygon points="713.4,177.2 766.0,194.3 731.4,229.5" fill="#ff0000"/>
<line x1="752.5" y1="912.5" x2="620.6" y2="1098.2" stroke="#ff0000" stroke-width="10.4" stroke-linecap="round"/>
<polygon points="591.9,1138.6 600.4,1083.9 640.7,1112.5" fill="#ff0000"/>
<line x1="669.2" y1="1172.0" x2="556.0" y2="1218.1" stroke="#ff0000" stroke-width="10.4" stroke-linecap="round"/>
<polygon points="510.2,1236.8 546.7,1195.2 565.4,1241.0" fill="#ff0000"/>
<line x1="724.0" y1="1351.0" x2="590.3" y2="1314.3" stroke="#ff0000" stroke-width="10.4" stroke-linecap="round"/>
<polygon points="542.6,1301.2 596.9,1290.5 583.8,1338.1" fill="#ff0000"/>
<g stroke="#262626" stroke-width="8" fill="none" stroke-linecap="round">
<line x1="193.0" y1="1349.56" x2="208.0" y2="1349.56"/>
<line x1="1632.0" y1="1349.56" x2="1617.0" y2="1349.56"/>
<line x1="193.0" y1="1189.11" x2="208.0" y2="1189.11"/>
<line x1="1632.0" y1="1189.11" x2="1617.0" y2="1189.11"/>
<line x1="193.0" y1="1028.67" x2="208.0" y2="1028.67"/>
<line x1="1632.0" y1="1028.67" x2="1617.0" y2="1028.67"/>
<line x1="193.0" y1="868.22" x2="208.0" y2="868.22"/>
<line x1="1632.0" y1="868.22" x2="1617.0" y2="868.22"/>
<line x1="193.0" y1="707.78" x2="208.0" y2="707.78"/>
<line x1="1632.0" y1="707.78" x2="1617.0" y2="707.78"/>
<line x1="193.0" y1="547.33" x2="208.0" y2="547.33"/>
<line x1="1632.0" y1="547.33" x2="1617.0" y2="547.33"/>
<line x1="193.0" y1="386.89" x2="208.0" y2="386.89"/>
<line x1="1632.0" y1="386.89" x2="1617.0" y2="386.89"/>
<line x1="193.0" y1="226.44" x2="208.0" y2="226.44"/>
<line x1="1632.0" y1="226.44" x2="1617.0" y2="226.44"/>
<line x1="552.75" y1="66.0" x2="552.75" y2="81.0"/>
<line x1="552.75" y1="1510.0" x2="552.75" y2="1495.0"/>
<line x1="912.50" y1="66.0" x2="912.50" y2="81.0"/>
<line x1="912.50" y1="1510.0" x2="912.50" y2="1495.0"/>
<line x1="1272.25" y1="66.0" x2="1272.25" y2="81.0"/>
<line x1="1272.25" y1="1510.0" x2="1272.25" y2="1495.0"/>
</g>
<rect x="193.0" y="66.0" width="1439.0" height="1444.0" fill="none" stroke="#262626" stroke-width="8" stroke-linejoin="miter"/>
<g font-size="91" fill="#262626">
<text x="134.7" y="101.3">8</text>
<text x="132.3" y="260.9">7</text>
<text x="133.5" y="419.0">6</text>
<text x="133.5" y="583.1">5</text>
<text x="133.5" y="742.7">4</text>
<text x="132.8" y="902.2">3</text>
<text x="134.2" y="1061.4">2</text>
<text x="133.1" y="1224.6">1</text>
<text x="134.2" y="1385.2">0</text>
<text x="84.2 139.6" y="1544.3">−1</text>
<text x="147.2 204.2 247.6 268.6" y="1619.2">−0.4</text>
<text x="485.3 542.4 585.7 607.2" y="1619.2">−0.2</text>
<text x="907.3" y="1619.2">0</text>
<text x="1237.2 1281.4 1303.3" y="1619.2">0.2</text>
<text x="1599.2 1643.2 1664.3" y="1619.2">0.4</text>
</g>
<text transform="translate(0 1707)" font-size="91" fill="#000"><tspan x="345.6" letter-spacing="-1.94">Displacement</tspan><tspan x="828.3"> </tspan><tspan x="848.3" letter-spacing="-5.59">in</tspan><tspan x="916.4"> </tspan><tspan x="936.4" font-style="italic">y</tspan><tspan x="976.3"> </tspan><tspan x="996.3" letter-spacing="-1.83">direction/μm</tspan></text>
<text transform="translate(81.6 0) rotate(-90)" font-size="91" fill="#000"><tspan x="-1319.4" letter-spacing="-1.97">Displacement</tspan><tspan x="-837.0"> </tspan><tspan x="-817.0" letter-spacing="-5.59">in</tspan><tspan x="-747.5"> </tspan><tspan x="-727.5" font-style="italic">z</tspan><tspan x="-692.4"> </tspan><tspan x="-672.4" letter-spacing="-1.83">direction/μm</tspan></text>
<text font-size="80" fill="#000"><tspan x="688.4" y="412.0" font-style="italic">k</tspan><tspan x="721.0 740.4" y="422.8" font-size="51.5">f2</tspan><tspan x="764.5 808.0" y="412.0">=1</tspan><tspan x="848.6" y="411.2" font-size="73">×</tspan><tspan x="891.1 933.4" y="412.0">10</tspan><tspan x="968.7" y="375.8" font-size="51.5">7</tspan><tspan x="993.8 1052.0 1072.7" y="412.0">N/m</tspan></text>
<text font-size="80" fill="#000"><tspan x="598.6" y="876.6" font-style="italic">k</tspan><tspan x="631.2 650.6" y="887.4" font-size="51.5">f2</tspan><tspan x="674.7 718.6" y="876.6">=5</tspan><tspan x="758.8" y="875.8" font-size="73">×</tspan><tspan x="801.3 843.6" y="876.6">10</tspan><tspan x="878.9" y="840.4" font-size="51.5">7</tspan><tspan x="904.0 962.2 982.9" y="876.6">N/m</tspan></text>
<text font-size="80" fill="#000"><tspan x="672.1" y="1190.0" font-style="italic">k</tspan><tspan x="704.7 724.1" y="1200.8" font-size="51.5">f2</tspan><tspan x="748.2 791.7" y="1190.0">=1</tspan><tspan x="832.3" y="1189.2" font-size="73">×</tspan><tspan x="874.8 917.1" y="1190.0">10</tspan><tspan x="953.3" y="1153.8" font-size="51.5">8</tspan><tspan x="977.5 1035.7 1056.4" y="1190.0">N/m</tspan></text>
<text font-size="80" fill="#000"><tspan x="745.6" y="1373.0" font-style="italic">k</tspan><tspan x="778.2 797.6" y="1383.8" font-size="51.5">f2</tspan><tspan x="821.7 865.2" y="1373.0">=1</tspan><tspan x="905.8" y="1372.2" font-size="73">×</tspan><tspan x="948.3 990.6" y="1373.0">10</tspan><tspan x="1027.1" y="1336.8" font-size="51.5">9</tspan><tspan x="1051.0 1109.2 1129.9" y="1373.0">N/m</tspan></text>
</svg></body></html>
